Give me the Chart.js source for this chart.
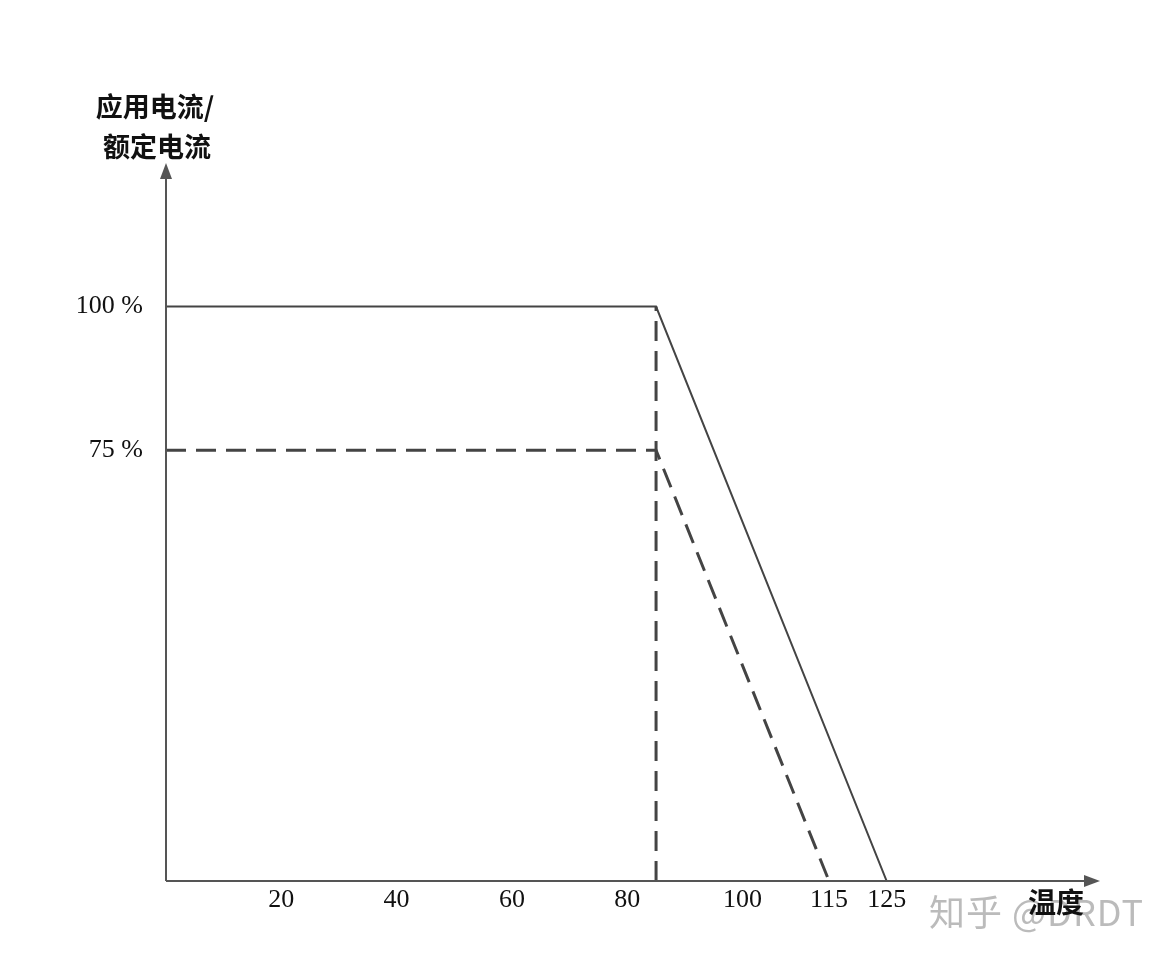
<!DOCTYPE html>
<html>
<head>
<meta charset="utf-8">
<script src="https://cdn.jsdelivr.net/npm/chart.js@4/dist/chart.umd.min.js"></script>
<style>
html,body{margin:0;padding:0;background:#fff;}
#wrap{width:1164px;height:963px;position:relative;}
</style>
</head>
<body>
<div id="wrap"><canvas id="c" width="1164" height="963"></canvas></div>
<script>
// Rated curve (100%)
const ratedTemp = [0, 85, 125];
const ratedCurrent = [100, 100, 0];
// Derated curve (75%)
const deratedTemp = [0, 85, 115];
const deratedCurrent = [75, 75, 0];
// Vertical dashed marker at 85
const markerTemp = [85, 85];
const markerCurrent = [0, 100];
// Tick labels
const xTicks = [20, 40, 60, 80, 100, 115, 125];
const yTicks = [75, 100];
const yTitle = ['应用电流/', '额定电流'];
const xTitle = '温度';
const watermark = '知乎 @DRDT';

const toXY = (xs, ys) => xs.map((x, i) => ({x: x, y: ys[i]}));

const axisPlugin = {
  id: 'axisArrows',
  afterDraw(chart) {
    const {ctx, chartArea: a} = chart;
    ctx.save();
    ctx.strokeStyle = '#555';
    ctx.fillStyle = '#555';
    ctx.lineWidth = 2;
    ctx.beginPath();
    ctx.moveTo(a.left, a.bottom);
    ctx.lineTo(a.right - 8, a.bottom);
    ctx.moveTo(a.left, a.bottom);
    ctx.lineTo(a.left, a.top + 8);
    ctx.stroke();
    // x arrow
    ctx.beginPath();
    ctx.moveTo(a.right, a.bottom);
    ctx.lineTo(a.right - 16, a.bottom - 6);
    ctx.lineTo(a.right - 16, a.bottom + 6);
    ctx.closePath();
    ctx.fill();
    // y arrow
    ctx.beginPath();
    ctx.moveTo(a.left, a.top);
    ctx.lineTo(a.left - 6, a.top + 16);
    ctx.lineTo(a.left + 6, a.top + 16);
    ctx.closePath();
    ctx.fill();

    // watermark
    ctx.font = '36px "Noto Sans CJK SC", "Noto Sans", sans-serif';
    ctx.fillStyle = 'rgba(175,175,175,0.85)';
    ctx.textAlign = 'left';
    ctx.textBaseline = 'middle';
    if ('letterSpacing' in ctx) ctx.letterSpacing = '1px';
    ctx.fillText(watermark, 929, 912);
    if ('letterSpacing' in ctx) ctx.letterSpacing = '0px';

    // titles
    ctx.fillStyle = '#111';
    ctx.font = 'bold 27px "Noto Sans CJK SC", sans-serif';
    ctx.textAlign = 'center';
    ctx.fillText(yTitle[0], 155, 107);
    ctx.fillText(yTitle[1], 157, 147);
    ctx.font = 'bold 28px "Noto Sans CJK SC", sans-serif';
    ctx.fillText(xTitle, 1056, 902);
    ctx.restore();
  }
};

const lineColor = '#444';

new Chart(document.getElementById('c'), {
  type: 'scatter',
  data: {
    datasets: [
      {
        data: toXY(ratedTemp, ratedCurrent),
        showLine: true, borderColor: lineColor, borderWidth: 2,
        pointRadius: 0, fill: false, tension: 0
      },
      {
        data: toXY(deratedTemp, deratedCurrent),
        showLine: true, borderColor: lineColor, borderWidth: 3, borderDash: [20, 10],
        pointRadius: 0, fill: false, tension: 0
      },
      {
        data: toXY(markerTemp, markerCurrent),
        showLine: true, borderColor: lineColor, borderWidth: 3, borderDash: [20, 10],
        pointRadius: 0, fill: false, tension: 0
      }
    ]
  },
  options: {
    responsive: false,
    animation: false,
    devicePixelRatio: 1,
    layout: {padding: {left: 0, top: 163, right: 64, bottom: 0}},
    plugins: {legend: {display: false}, tooltip: {enabled: false}},
    scales: {
      x: {
        type: 'linear', min: 0, max: 162,
        border: {display: false},
        grid: {display: false, drawTicks: false},
        afterBuildTicks: s => { s.ticks = xTicks.map(v => ({value: v})); },
        afterFit: s => { s.height = 82; },
        ticks: {
          padding: 4, maxRotation: 0, autoSkip: false, color: '#111',
          font: {family: '"Liberation Serif", serif', size: 26},
          callback: v => String(v)
        }
      },
      y: {
        type: 'linear', min: 0, max: 125,
        border: {display: false},
        grid: {display: false, drawTicks: false},
        afterBuildTicks: s => { s.ticks = yTicks.map(v => ({value: v})); },
        afterFit: s => { s.width = 166; },
        ticks: {
          padding: 23, autoSkip: false, color: '#111',
          font: {family: '"Liberation Serif", serif', size: 26},
          callback: v => v + ' %'
        }
      }
    }
  },
  plugins: [axisPlugin]
});
</script>
</body>
</html>
